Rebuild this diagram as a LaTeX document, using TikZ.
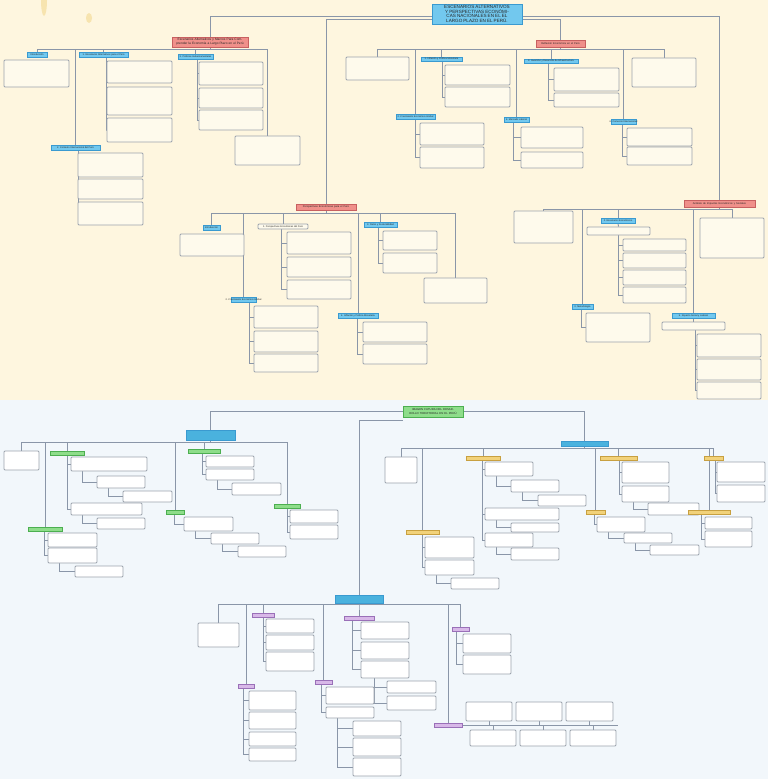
\documentclass[tikz,border=0pt]{standalone}
\usepackage{fontspec}
\setmainfont{Liberation Sans}
\usetikzlibrary{fit,calc}
\definecolor{creamb}{HTML}{FEF6DF}
\definecolor{blueb}{HTML}{F2F7FB}
\definecolor{conn}{HTML}{8A96A8}
\definecolor{bord}{HTML}{9CA3AD}
\definecolor{redf}{HTML}{F0908A}
\definecolor{redd}{HTML}{C86060}
\definecolor{bluef}{HTML}{72C8EE}
\definecolor{blued}{HTML}{3A9AD0}
\definecolor{dblue}{HTML}{4AB2DE}
\definecolor{greenf}{HTML}{8EDD8A}
\definecolor{greend}{HTML}{4CAF50}
\definecolor{yelf}{HTML}{F2D27A}
\definecolor{yeld}{HTML}{C8A040}
\definecolor{purf}{HTML}{D8B8E8}
\definecolor{purd}{HTML}{9A70B8}
\pgfdeclarelayer{lines}
\pgfsetlayers{lines,main}
\tikzset{
  conn/.style={draw=conn,line width=0.9pt},
  tbox/.style={draw=bord,line width=0.8pt,fill=white,rounded corners=1pt,inner sep=0pt},
  tboxc/.style={tbox,fill=creamb!60!white},
  redbox/.style={draw=redd,fill=redf,line width=0.6pt,inner sep=0pt},
  bluebox/.style={draw=blued,fill=bluef,line width=0.6pt,inner sep=0pt},
  dbluebox/.style={draw=blued,fill=dblue,line width=0.6pt,inner sep=0pt},
  greenbox/.style={draw=greend,fill=greenf,line width=0.6pt,inner sep=0pt},
  yelbox/.style={draw=yeld,fill=yelf,line width=0.6pt,inner sep=0pt},
  purbox/.style={draw=purd,fill=purf,line width=0.6pt,inner sep=0pt},
  lbl/.style={font=\fontsize{3.2}{3.8}\selectfont,align=center,text=black!85},
  hlbl/.style={font=\fontsize{2.4}{2.8}\selectfont,text=black!85,inner sep=0pt},
}
\newcommand\bx[7]{\path (#3,#4) coordinate (#2@a) (#5,#6) coordinate (#2@b);
  \node[#1,fit=(#2@a)(#2@b)] (#2) {}; \node[lbl,text width=(#5-#3-2)*1pt] at (#2) {#7};}
\newcommand\hx[7]{\path (#3,#4) coordinate (#2@a) (#5,#6) coordinate (#2@b);
  \node[#1,fit=(#2@a)(#2@b)] (#2) {}; \node[hlbl] at (#2) {#7};}
\newcommand\tc[3]{\begin{pgfonlayer}{lines}\draw[conn] (#1.south) -- ($(#1.south)+(0,#3)$) -| (#2.north);\end{pgfonlayer}}
\newcommand\hg[3]{\begin{pgfonlayer}{lines}\draw[conn] ([xshift=#3pt]#1.south west) |- (#2.west);\end{pgfonlayer}}
\begin{document}
\begin{tikzpicture}[x=1pt,y=-1pt]
\useasboundingbox (0,0) rectangle (768,779);
\begin{pgfonlayer}{lines}
\fill[creamb] (0,0) rectangle (768,400);
\fill[blueb] (0,400) rectangle (768,779);
\begin{scope}
\clip (0,0) rectangle (768,400);
\fill[yelf!60] (44,0) ellipse (3 and 16);
\fill[yelf!60] (89,18) ellipse (3 and 5);
\end{scope}
\end{pgfonlayer}
% ===== TOP =====
\bx{bluebox}{T}{432}{4}{522}{24}{\fontsize{4.6}{5.4}\selectfont ESCENARIOS ALTERNATIVOS Y PERSPECTIVAS ECONÓMICAS NACIONALES EN EL EL LARGO PLAZO EN EL PERÚ.}
\bx{redbox}{A}{172}{37}{248}{47}{Escenarios Alternativos y Marcos Para Comprender la Economía a Largo Plazo en el Perú}
\bx{redbox}{B}{536}{40}{585}{47}{\fontsize{2.6}{3}\selectfont Reflexión Económica en el Perú}
\bx{redbox}{C}{296}{204}{356}{210}{\fontsize{2.6}{3}\selectfont Perspectivas Económicas para el Perú}
\bx{redbox}{D}{684}{200}{755}{207}{\fontsize{2.6}{3}\selectfont Análisis de Impactos Económicos y Sociales}
\begin{pgfonlayer}{lines}
\draw[conn] ([yshift=-2pt]T.west) -| (A.north);
\draw[conn] ([yshift=-2pt]T.east) -| (D.north);
\draw[conn] ([yshift=-5pt]T.west) -| (C.north);
\draw[conn] ([yshift=-5pt]T.east) -| (B.north);
\end{pgfonlayer}
% Section A
\hx{bluebox}{A1}{27}{52}{47}{57}{Introducción}
\bx{tboxc}{A1a}{4}{60}{69}{87}{}
\hx{bluebox}{A2}{79}{52}{128}{57}{1. Escenarios Alternativos para el Perú}
\bx{tboxc}{A2a}{107}{61}{172}{83}{}
\bx{tboxc}{A2b}{107}{87}{172}{115}{}
\bx{tboxc}{A2c}{107}{118}{172}{142}{}
\hx{bluebox}{A3}{51}{145}{100}{150}{2. Contexto Internacional del Perú}
\bx{tboxc}{A3a}{78}{153}{143}{177}{}
\bx{tboxc}{A3b}{78}{179}{143}{199}{}
\bx{tboxc}{A3c}{78}{202}{143}{225}{}
\hx{bluebox}{A4}{178}{54}{213}{59}{3. Políticas Gubernamentales}
\bx{tboxc}{A4a}{199}{62}{263}{85}{}
\bx{tboxc}{A4b}{199}{88}{263}{108}{}
\bx{tboxc}{A4c}{199}{110}{263}{130}{}
\bx{tboxc}{A5}{235}{136}{300}{165}{}
\foreach \c in {A1,A2,A3,A4,A5} {\tc{A}{\c}{2}}
\foreach \c in {A2a,A2b,A2c} {\hg{A2}{\c}{28}}
\foreach \c in {A3a,A3b,A3c} {\hg{A3}{\c}{28}}
\foreach \c in {A4a,A4b,A4c} {\hg{A4}{\c}{20}}
% Section B
\bx{tboxc}{B1}{346}{57}{409}{80}{}
\hx{bluebox}{B2}{421}{57}{462}{61}{1. Inflación y Política Monetaria}
\bx{tboxc}{B2a}{445}{65}{510}{85}{}
\bx{tboxc}{B2b}{445}{87}{510}{107}{}
\hx{bluebox}{B3}{396}{114}{435}{119}{2. Crecimiento Económico Global}
\bx{tboxc}{B3a}{420}{123}{484}{145}{}
\bx{tboxc}{B3b}{420}{147}{484}{168}{}
\hx{bluebox}{B4}{524}{59}{578}{63}{3. Inversión y Desarrollo de Infraestructura}
\bx{tboxc}{B4a}{554}{68}{619}{91}{}
\bx{tboxc}{B4b}{554}{93}{619}{107}{}
\hx{bluebox}{B5}{504}{117}{529}{122}{4. Mercado Laboral}
\bx{tboxc}{B5a}{521}{127}{583}{148}{}
\bx{tboxc}{B5b}{521}{152}{583}{168}{}
\bx{tboxc}{B6}{632}{58}{696}{87}{}
\hx{bluebox}{B7}{611}{119}{636}{124}{6. Comercio Internacional}
\bx{tboxc}{B7a}{627}{128}{692}{146}{}
\bx{tboxc}{B7b}{627}{147}{692}{165}{}
\foreach \c in {B1,B2,B3,B4,B5,B6,B7} {\tc{B}{\c}{2}}
\foreach \c in {B2a,B2b} {\hg{B2}{\c}{22}}
\foreach \c in {B3a,B3b} {\hg{B3}{\c}{20}}
\foreach \c in {B4a,B4b} {\hg{B4}{\c}{25}}
\foreach \c in {B5a,B5b} {\hg{B5}{\c}{10}}
\foreach \c in {B7a,B7b} {\hg{B7}{\c}{12}}
% Section C
\hx{bluebox}{C1}{203}{225}{220}{230}{Introducción}
\bx{tboxc}{C1a}{180}{234}{244}{256}{}
\hx{tboxc}{C2}{258}{224}{308}{229}{1. Perspectivas Económicas del Perú}
\bx{tboxc}{C2a}{287}{232}{351}{254}{}
\bx{tboxc}{C2b}{287}{257}{351}{277}{}
\bx{tboxc}{C2c}{287}{280}{351}{299}{}
\hx{bluebox}{C3}{231}{297}{256}{302}{2. Crecimiento Económico Global}
\bx{tboxc}{C3a}{254}{306}{318}{328}{}
\bx{tboxc}{C3b}{254}{331}{318}{352}{}
\bx{tboxc}{C3c}{254}{354}{318}{372}{}
\hx{bluebox}{C4}{364}{222}{397}{227}{3. Retos y Sostenibilidad}
\bx{tboxc}{C4a}{383}{231}{437}{250}{}
\bx{tboxc}{C4b}{383}{253}{437}{273}{}
\hx{bluebox}{C5}{338}{313}{378}{318}{4. Inflación y Política Monetaria}
\bx{tboxc}{C5a}{363}{322}{427}{342}{}
\bx{tboxc}{C5b}{363}{344}{427}{364}{}
\bx{tboxc}{C6}{424}{278}{487}{303}{}
\foreach \c in {C1,C2,C3,C4,C5,C6} {\tc{C}{\c}{3}}
\foreach \c in {C2a,C2b,C2c} {\hg{C2}{\c}{24}}
\foreach \c in {C3a,C3b,C3c} {\hg{C3}{\c}{19}}
\foreach \c in {C4a,C4b} {\hg{C4}{\c}{15}}
\foreach \c in {C5a,C5b} {\hg{C5}{\c}{20}}
% Section D
\bx{tboxc}{D1}{514}{211}{573}{243}{}
\hx{bluebox}{D2}{601}{218}{635}{223}{2. Escenarios Económicos}
\bx{tboxc}{D2h}{587}{227}{650}{235}{}
\bx{tboxc}{D2a}{623}{239}{686}{251}{}
\bx{tboxc}{D2b}{623}{253}{686}{268}{}
\bx{tboxc}{D2c}{623}{270}{686}{285}{}
\bx{tboxc}{D2d}{623}{287}{686}{303}{}
\hx{bluebox}{D3}{572}{304}{593}{309}{3. Metodología}
\bx{tboxc}{D3a}{586}{313}{650}{342}{}
\bx{tboxc}{D4}{700}{218}{764}{258}{}
\hx{bluebox}{D5}{672}{313}{715}{318}{5. Impacto Social y Laboral}
\bx{tboxc}{D5h}{662}{322}{725}{330}{}
\bx{tboxc}{D5a}{697}{334}{761}{357}{}
\bx{tboxc}{D5b}{697}{359}{761}{380}{}
\bx{tboxc}{D5c}{697}{382}{761}{399}{}
\foreach \c in {D1,D2,D3,D4,D5} {\tc{D}{\c}{2}}
\begin{pgfonlayer}{lines}
\draw[conn] (D2.south) -- (D2h.north);
\draw[conn] (D5.south) -- (D5h.north);
\end{pgfonlayer}
\foreach \c in {D2a,D2b,D2c,D2d} {\hg{D2h}{\c}{32}}
\foreach \c in {D5a,D5b,D5c} {\hg{D5h}{\c}{34}}
\hg{D3}{D3a}{10}
% ===== BOTTOM =====
\bx{greenbox}{U}{403}{406}{463}{417}{\fontsize{2.8}{3.3}\selectfont IMAGEN FUTURA DEL DESARROLLO TERRITORIAL EN EL PERÚ}
\bx{dbluebox}{E}{186}{430}{235}{440}{}
\bx{dbluebox}{F}{561}{441}{608}{446}{}
\bx{dbluebox}{G}{335}{595}{383}{603}{}
\begin{pgfonlayer}{lines}
\draw[conn] (U.west) -| (E.north);
\draw[conn] (U.east) -| (F.north);
\draw[conn] ([yshift=-3pt]U.south west) -| (G.north);
\end{pgfonlayer}
% Section E
\bx{tbox}{E1}{4}{451}{39}{470}{}
\bx{greenbox}{E2}{50}{451}{84}{455}{}
\bx{tbox}{E2a}{71}{457}{147}{471}{}
\bx{tbox}{E2b}{97}{476}{145}{488}{}
\bx{tbox}{E2c}{123}{491}{172}{502}{}
\bx{tbox}{E2d}{71}{503}{142}{515}{}
\bx{tbox}{E2e}{97}{518}{145}{529}{}
\bx{greenbox}{E3}{28}{527}{62}{531}{}
\bx{tbox}{E3a}{48}{533}{97}{547}{}
\bx{tbox}{E3b}{48}{548}{97}{563}{}
\bx{tbox}{E3c}{75}{566}{123}{577}{}
\bx{greenbox}{E4}{188}{449}{220}{453}{}
\bx{tbox}{E4a}{206}{456}{254}{467}{}
\bx{tbox}{E4b}{206}{469}{254}{480}{}
\bx{tbox}{E4c}{232}{483}{281}{495}{}
\bx{greenbox}{E5}{166}{510}{184}{514}{}
\bx{tbox}{E5a}{184}{517}{233}{531}{}
\bx{tbox}{E5b}{211}{533}{259}{544}{}
\bx{tbox}{E5c}{238}{546}{286}{557}{}
\bx{greenbox}{E6}{274}{504}{300}{508}{}
\bx{tbox}{E6a}{290}{510}{338}{523}{}
\bx{tbox}{E6b}{290}{525}{338}{539}{}
\foreach \c in {E1,E2,E3,E4,E5,E6} {\tc{E}{\c}{2}}
\foreach \c in {E2a,E2d} {\hg{E2}{\c}{18}}
\hg{E2a}{E2b}{12} \hg{E2b}{E2c}{12} \hg{E2d}{E2e}{12}
\foreach \c in {E3a,E3b} {\hg{E3}{\c}{17}}
\hg{E3b}{E3c}{12}
\foreach \c in {E4a,E4b} {\hg{E4}{\c}{15}}
\hg{E4b}{E4c}{12}
\hg{E5}{E5a}{9} \hg{E5a}{E5b}{12} \hg{E5b}{E5c}{12}
\foreach \c in {E6a,E6b} {\hg{E6}{\c}{14}}
% Section F
\bx{tbox}{F1}{385}{457}{417}{483}{}
\bx{yelbox}{F2}{466}{456}{500}{460}{}
\bx{tbox}{F2a}{485}{462}{533}{476}{}
\bx{tbox}{F2b}{511}{480}{559}{492}{}
\bx{tbox}{F2c}{538}{495}{586}{506}{}
\bx{tbox}{F2d}{485}{508}{559}{520}{}
\bx{tbox}{F2e}{511}{523}{559}{532}{}
\bx{tbox}{F2f}{485}{533}{533}{547}{}
\bx{tbox}{F2g}{511}{548}{559}{560}{}
\bx{yelbox}{F3}{406}{530}{439}{534}{}
\bx{tbox}{F3a}{425}{537}{474}{558}{}
\bx{tbox}{F3b}{425}{560}{474}{575}{}
\bx{tbox}{F3c}{451}{578}{499}{589}{}
\bx{yelbox}{F4}{600}{456}{637}{460}{}
\bx{tbox}{F4a}{622}{462}{669}{483}{}
\bx{tbox}{F4b}{622}{486}{669}{502}{}
\bx{tbox}{F4c}{648}{503}{699}{515}{}
\bx{yelbox}{F5}{586}{510}{605}{514}{}
\bx{tbox}{F5a}{597}{517}{645}{532}{}
\bx{tbox}{F5b}{624}{533}{672}{543}{}
\bx{tbox}{F5c}{650}{545}{699}{555}{}
\bx{yelbox}{F6}{704}{456}{723}{460}{}
\bx{tbox}{F6a}{717}{462}{765}{482}{}
\bx{tbox}{F6b}{717}{485}{765}{502}{}
\bx{yelbox}{F7}{688}{510}{730}{514}{}
\bx{tbox}{F7a}{705}{517}{752}{529}{}
\bx{tbox}{F7b}{705}{531}{752}{547}{}
\foreach \c in {F1,F2,F3,F4,F5,F6,F7} {\tc{F}{\c}{2}}
\foreach \c in {F2a,F2d,F2f} {\hg{F2}{\c}{17}}
\hg{F2a}{F2b}{12} \hg{F2b}{F2c}{12} \hg{F2d}{F2e}{12} \hg{F2f}{F2g}{12}
\foreach \c in {F3a,F3b} {\hg{F3}{\c}{17}}
\hg{F3b}{F3c}{12}
\foreach \c in {F4a,F4b} {\hg{F4}{\c}{20}}
\hg{F4b}{F4c}{12}
\hg{F5}{F5a}{9} \hg{F5a}{F5b}{12} \hg{F5b}{F5c}{12}
\foreach \c in {F6a,F6b} {\hg{F6}{\c}{12}}
\foreach \c in {F7a,F7b} {\hg{F7}{\c}{14}}
% Section G
\bx{tbox}{G1}{198}{623}{239}{647}{}
\bx{purbox}{G2}{252}{613}{274}{617}{}
\bx{tbox}{G2a}{266}{619}{314}{633}{}
\bx{tbox}{G2b}{266}{635}{314}{650}{}
\bx{tbox}{G2c}{266}{652}{314}{671}{}
\bx{purbox}{G3}{238}{684}{254}{688}{}
\bx{tbox}{G3a}{249}{691}{296}{710}{}
\bx{tbox}{G3b}{249}{712}{296}{729}{}
\bx{tbox}{G3c}{249}{732}{296}{746}{}
\bx{tbox}{G3d}{249}{748}{296}{761}{}
\bx{purbox}{G4}{315}{680}{332}{684}{}
\bx{tbox}{G4a}{326}{687}{374}{704}{}
\bx{tbox}{G4b}{326}{707}{374}{718}{}
\bx{tbox}{G4c}{353}{721}{401}{736}{}
\bx{tbox}{G4d}{353}{738}{401}{756}{}
\bx{tbox}{G4e}{353}{758}{401}{776}{}
\bx{purbox}{G5}{344}{616}{374}{620}{}
\bx{tbox}{G5a}{361}{622}{409}{639}{}
\bx{tbox}{G5b}{361}{642}{409}{659}{}
\bx{tbox}{G5c}{361}{661}{409}{678}{}
\bx{tbox}{G5d}{387}{681}{436}{693}{}
\bx{tbox}{G5e}{387}{696}{436}{710}{}
\bx{purbox}{G6}{452}{627}{469}{631}{}
\bx{tbox}{G6a}{463}{634}{511}{653}{}
\bx{tbox}{G6b}{463}{655}{511}{674}{}
\bx{purbox}{G7}{434}{723}{462}{727}{}
\bx{tbox}{G7a}{466}{702}{512}{721}{}
\bx{tbox}{G7b}{516}{702}{562}{721}{}
\bx{tbox}{G7c}{566}{702}{613}{721}{}
\bx{tbox}{G7d}{470}{730}{516}{746}{}
\bx{tbox}{G7e}{520}{730}{566}{746}{}
\bx{tbox}{G7f}{570}{730}{616}{746}{}
\foreach \c in {G1,G2,G3,G4,G5,G6,G7} {\tc{G}{\c}{1}}
\foreach \c in {G2a,G2b,G2c} {\hg{G2}{\c}{12}}
\foreach \c in {G3a,G3b,G3c,G3d} {\hg{G3}{\c}{6}}
\foreach \c in {G4a,G4b} {\hg{G4}{\c}{7}}
\foreach \c in {G4c,G4d,G4e} {\hg{G4b}{\c}{12}}
\foreach \c in {G5a,G5b,G5c} {\hg{G5}{\c}{9}}
\foreach \c in {G5d,G5e} {\hg{G5c}{\c}{14}}
\foreach \c in {G6a,G6b} {\hg{G6}{\c}{5}}
\begin{pgfonlayer}{lines}
\draw[conn] (G7.east) -- ([xshift=2pt]G7f.north east |- G7.east) coordinate (g7end);
\foreach \c in {G7a,G7b,G7c} {\draw[conn] (\c.south) -- (\c.south |- G7.east);}
\foreach \c in {G7d,G7e,G7f} {\draw[conn] (\c.north) -- (\c.north |- G7.east);}
\end{pgfonlayer}
\end{tikzpicture}
\end{document}
